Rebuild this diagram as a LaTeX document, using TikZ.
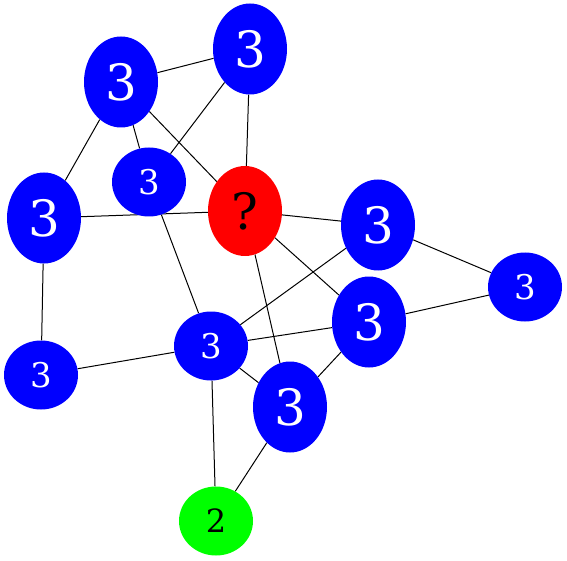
\documentclass[tikz,border=0pt]{standalone}
\usepackage{fontspec}
\setmainfont{DejaVu Serif}
\usetikzlibrary{shapes.geometric,backgrounds}

\begin{document}
\begin{tikzpicture}[x=1pt, y=-1pt,
  vert/.style={ellipse, inner sep=0pt, minimum width=74pt},
  bigv/.style={vert, fill=blue, text=white, minimum height=91pt, font=\fontsize{50}{50}\selectfont},
  smallv/.style={vert, fill=blue, text=white, minimum height=69pt, font=\fontsize{34}{34}\selectfont},
  askv/.style={vert, fill=red, text=black, minimum height=90pt, font=\fontsize{50}{50}\selectfont},
  goalv/.style={vert, fill=green, text=black, minimum height=69pt, font=\fontsize{32}{32}\selectfont},
  link/.style={draw=black, line width=1pt}]
  \useasboundingbox (0,0) rectangle (567,561);
  % vertices
  \node[bigv]   (a) at (121,82)  {3};
  \node[bigv]   (b) at (250,49)  {3};
  \node[smallv] (c) at (149,182) {3};
  \node[askv]   (q) at (245,211) {?};
  \node[bigv]   (e) at (44,218)  {3};
  \node[bigv]   (f) at (378,225) {3};
  \node[smallv] (g) at (525,287) {3};
  \node[bigv]   (h) at (369,322) {3};
  \node[smallv] (i) at (211,346) {3};
  \node[smallv] (j) at (41,375)  {3};
  \node[bigv]   (k) at (290,407) {3};
  \node[goalv]  (l) at (216,521) {2};
  % edges
  \begin{scope}[on background layer]
    \foreach \u/\v in {a/b, a/c, a/q, a/e, b/c, b/q, c/i, q/e, q/f, q/h, q/k,
                       e/j, f/g, f/i, g/h, h/i, h/k, i/j, i/k, i/l, k/l}
      \draw[link] (\u) -- (\v);
  \end{scope}
\end{tikzpicture}
\end{document}
